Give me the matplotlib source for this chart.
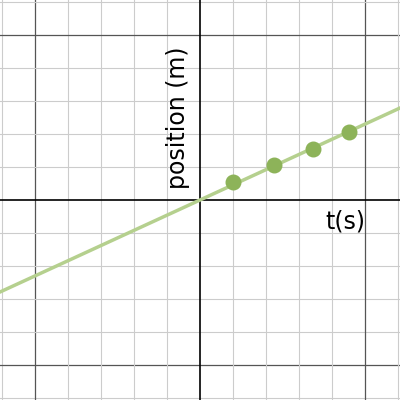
import numpy as np
import matplotlib
matplotlib.use('Agg')
import matplotlib.pyplot as plt

t_pts = [1.0, 2.24, 3.42, 4.5]
x_pts = [0.55, 1.06, 1.55, 2.06]
slope = 0.46
lim = 200 / 33.0

fig = plt.figure(figsize=(4, 4), dpi=100)
ax = fig.add_axes([0, 0, 1, 1])
ax.set_xlim(-lim, lim); ax.set_ylim(-lim, lim)
ax.axis('off')

for v in np.arange(-6, 7):
    if v == 0:
        continue
    c, lw = ('#555555', 0.9) if v % 5 == 0 else ('#cccccc', 0.8)
    ax.axvline(v, color=c, lw=lw, zorder=1)
    ax.axhline(v, color=c, lw=lw, zorder=1)
ax.axvline(0, color='black', lw=1.2, zorder=2)
ax.axhline(0, color='black', lw=1.2, zorder=2)

xs = np.array([-lim, lim])
ax.plot(xs, slope * xs, color='#b5d08e', lw=2.5, zorder=3)
ax.scatter(t_pts, x_pts, s=110, color='#8db359', zorder=4)

ax.text(3.8, -0.3, 't(s)', fontsize=17, ha='left', va='top')
ax.text(-0.3, 2.5, 'position (m)', fontsize=17, rotation=90, ha='right', va='center')

fig.savefig('out.png', dpi=100)
